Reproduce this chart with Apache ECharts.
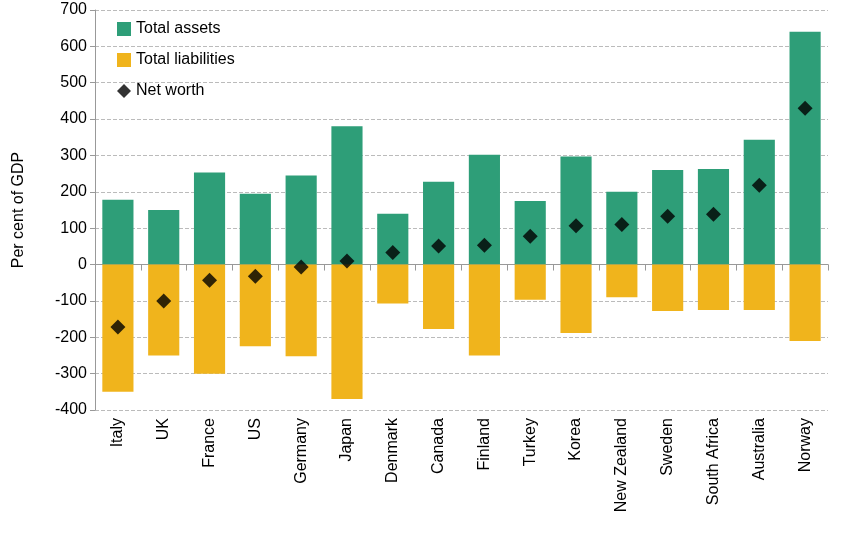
<!DOCTYPE html>
<html><head><meta charset="utf-8">
<script src="https://cdn.jsdelivr.net/npm/echarts@6/dist/echarts.min.js"></script>
<style>body{margin:0;background:#fff}#chart{width:848px;height:542px}</style>
</head><body><div id="chart"></div>
<script>
const countries = ['Italy','UK','France','US','Germany','Japan','Denmark','Canada','Finland','Turkey','Korea','New Zealand','Sweden','South Africa','Australia','Norway'];
const totalAssets = [178,150,253,195,245,380,140,228,302,175,297,200,260,263,343,640];
const totalLiabilities = [-350,-250,-300,-225,-252,-370,-107,-177,-250,-97,-188,-90,-128,-125,-125,-210];
const netWorth = [-172,-100,-43,-32,-7,10,33,51,53,78,107,110,133,138,218,430];

const chart = echarts.init(document.getElementById('chart'));
chart.setOption({
    animation: false,
    textStyle: { fontFamily: 'Liberation Sans, Arial', color: '#000' },
    grid: { left: 95, right: 20, top: 10, bottom: 132, containLabel: false, outerBoundsMode: 'none' },
    legend: {
        orient: 'vertical', left: 112, top: 16, itemGap: 15,
        itemWidth: 14, itemHeight: 14,
        textStyle: { fontSize: 16, color: '#000' },
        data: [
            { name: 'Total assets', icon: 'rect' },
            { name: 'Total liabilities', icon: 'rect' },
            { name: 'Net worth', icon: 'diamond' }
        ]
    },
    xAxis: {
        type: 'category', data: countries,
        axisLine: { onZero: true, lineStyle: { color: '#999' } },
        axisTick: { show: true, lineStyle: { color: '#999' }, length: 6 },
        axisLabel: { rotate: 90, fontSize: 16, color: '#000', margin: 8, interval: 0 }
    },
    yAxis: {
        type: 'value', min: -400, max: 700, interval: 100,
        name: 'Per cent of GDP', nameLocation: 'middle', nameGap: 68,
        nameTextStyle: { fontSize: 16, color: '#000' },
        axisLine: { show: true, lineStyle: { color: '#999' } },
        axisTick: { show: true, lineStyle: { color: '#999' } },
        axisLabel: { fontSize: 16, color: '#000' },
        splitLine: { lineStyle: { type: 'dashed', color: '#bbb' } }
    },
    series: [
        { name: 'Total assets', type: 'bar', stack: 'b', data: totalAssets, barWidth: '68%', itemStyle: { color: '#2e9e78' } },
        { name: 'Total liabilities', type: 'bar', stack: 'b', data: totalLiabilities, barWidth: '68%', itemStyle: { color: '#f0b41c' } },
        { name: 'Net worth', type: 'scatter', data: netWorth, symbol: 'diamond', symbolSize: 15, itemStyle: { color: '#000' }, z: 5 }
    ]
});
</script></body></html>
